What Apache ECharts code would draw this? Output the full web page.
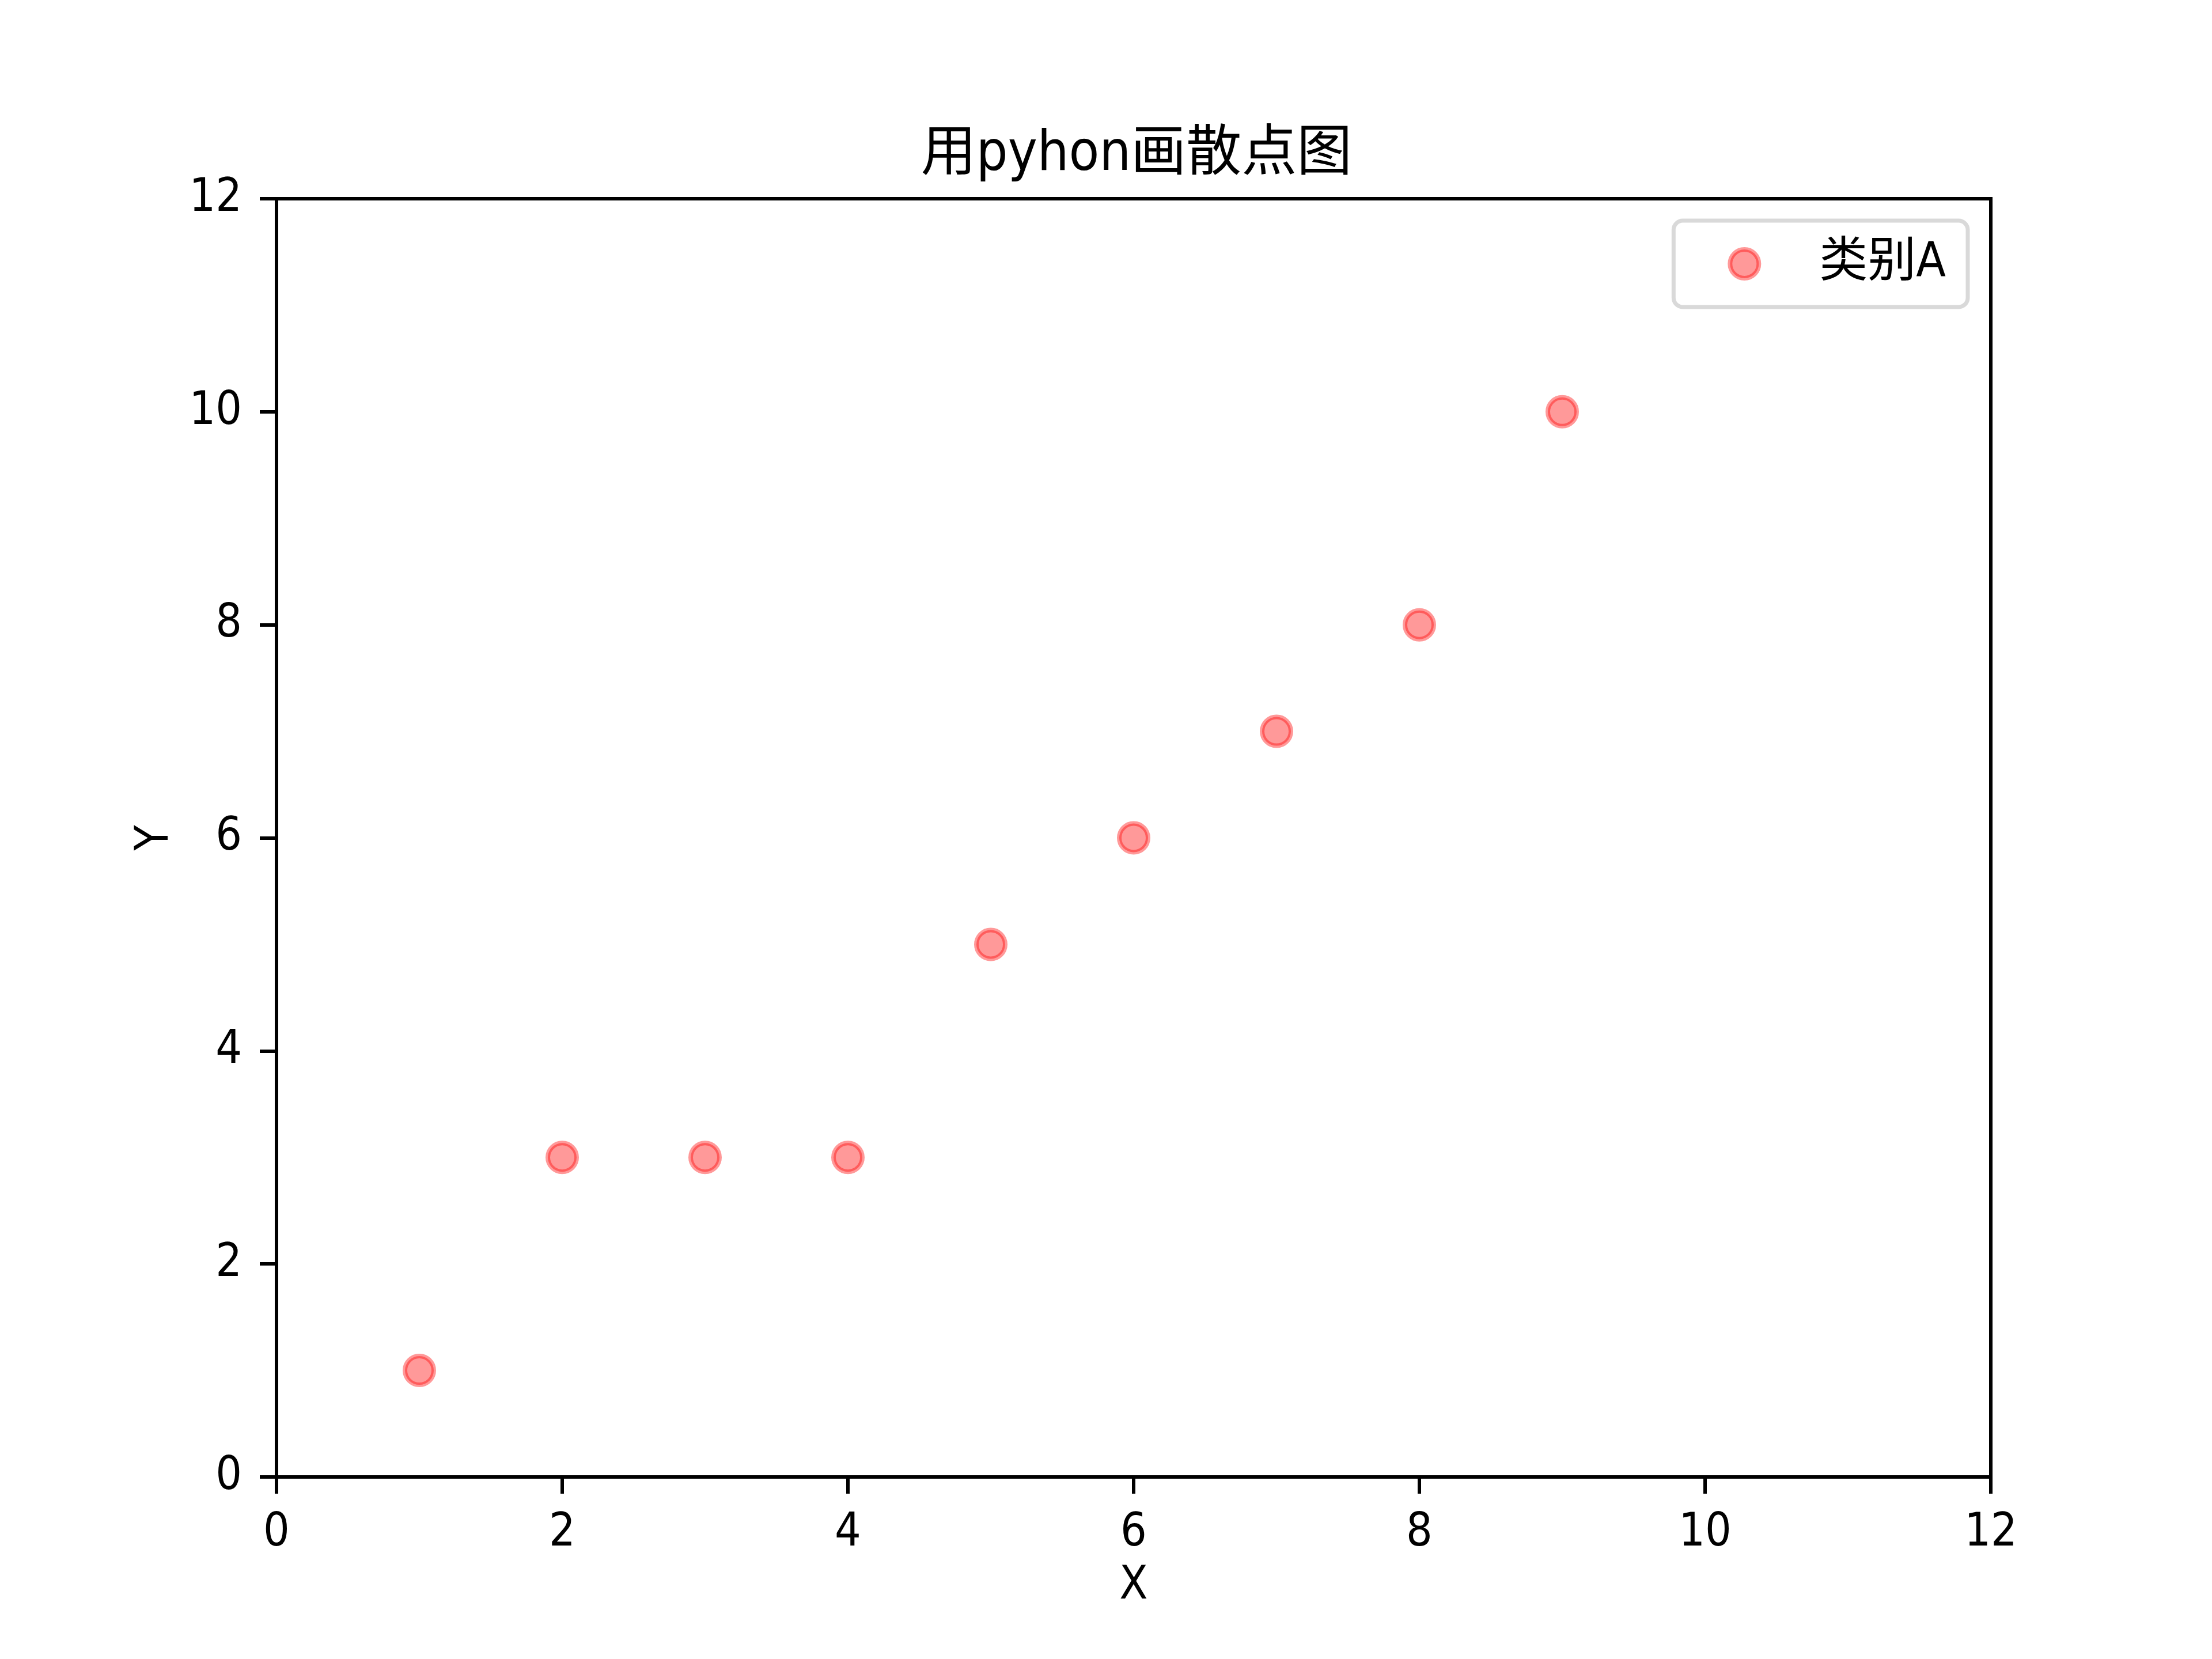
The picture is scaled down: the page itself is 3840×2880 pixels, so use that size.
<!DOCTYPE html>
<html>
  <head>
    <meta charset="utf-8" />
    <title>用pyhon画散点图</title>
    <script src="https://cdn.jsdelivr.net/npm/echarts@6/dist/echarts.min.js"></script>
    <style>
      html, body { margin: 0; padding: 0; background: #fff; }
      #main { width: 3840px; height: 2880px; }
    </style>
  </head>
  <body>
    <div id="main"></div>
    <script>
      // 数据
      var xValues = [1, 2, 3, 4, 5, 6, 7, 8, 9];
      var yValues = [1, 3, 3, 3, 5, 6, 7, 8, 10];
      var seriesName = '类别A';
      var titleText = '用pyhon画散点图';

      var points = xValues.map(function (x, i) { return [x, yValues[i]]; });

      var font = "'Liberation Sans Narrow', 'DejaVu Sans Condensed', 'Noto Sans CJK SC', sans-serif";
      var markerFill = 'rgba(255,0,0,0.4)';
      var myChart = echarts.init(document.getElementById('main'));

      // 坐标轴公共样式
      function axis(name, nameGap, margin, extra) {
        return Object.assign({
          type: 'value',
          min: 0,
          max: 12,
          interval: 2,
          name: name,
          nameLocation: 'middle',
          nameGap: nameGap,
          nameTextStyle: { color: '#000', fontSize: 80, fontFamily: font },
          axisLine: { show: true, onZero: false, lineStyle: { color: '#000', width: 6 } },
          axisTick: { show: true, inside: false, length: 29, lineStyle: { color: '#000', width: 6 } },
          axisLabel: { color: '#000', fontSize: 80, fontFamily: font, margin: margin },
          splitLine: { show: false }
        }, extra || {});
      }

      var option = {
        backgroundColor: '#fff',
        animation: false,
        title: {
          text: titleText,
          left: 1968,
          top: 217,
          textAlign: 'center',
          textStyle: { color: '#000', fontSize: 96, fontWeight: 'normal', fontFamily: font }
        },
        legend: {
          right: 424,
          top: 383,
          orient: 'vertical',
          itemWidth: 50,
          itemHeight: 50,
          itemGap: 0,
          padding: [30, 38, 30, 94],
          backgroundColor: '#fff',
          borderColor: '#d9d9d9',
          borderWidth: 7,
          borderRadius: 16,
          itemStyle: { color: markerFill, borderColor: markerFill, borderWidth: 8 },
          textStyle: { color: '#000', fontSize: 84, fontFamily: font, lineHeight: 90, padding: [0, 0, 0, 100] },
          data: [seriesName]
        },
        grid: {
          left: 480,
          right: 384,
          top: 345,
          bottom: 316,
          show: true,
          borderColor: '#000',
          borderWidth: 6,
          backgroundColor: 'transparent'
        },
        xAxis: axis('X', 150, 58),
        yAxis: axis('Y', 170, 60, { nameRotate: 90 }),
        series: [{
          name: seriesName,
          type: 'scatter',
          symbol: 'circle',
          symbolSize: 50,
          itemStyle: {
            color: markerFill,
            borderColor: markerFill,
            borderWidth: 8,
            opacity: 1
          },
          data: points
        }]
      };
      myChart.setOption(option);
    </script>
  </body>
</html>
